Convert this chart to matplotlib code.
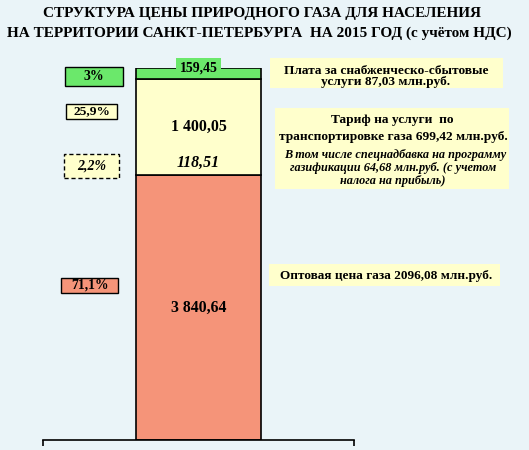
import matplotlib.pyplot as plt
from matplotlib.patches import Rectangle

# data
segments = ['Оптовая цена газа', 'Транспортировка', 'Снабженческо-сбытовые']
values = [3840.64, 1400.05, 159.45]
value_labels = ['3 840,64', '1 400,05', '159,45']
shares = ['71,1%', '25,9%', '3%']
surcharge = 118.51
surcharge_label = '118,51'
surcharge_share = '2,2%'
colors = ['#F59479', '#FFFFCC', '#6BE86B']

bg = '#EAF4F8'
W, H = 529, 450
plt.rcParams['font.family'] = ['Liberation Serif', 'DejaVu Serif']

fig = plt.figure(figsize=(W / 100, H / 100), dpi=100, facecolor=bg)


def fx(x):
    return x / W


def fy(y):
    return 1 - y / H


def pbox(x0, y0, x1, y1, color, ec='none', ls='-'):
    # rectangle in pixel coords (top-left origin)
    fig.patches.append(Rectangle((fx(x0), fy(y1)), fx(x1) - fx(x0), (y1 - y0) / H,
                                 transform=fig.transFigure, facecolor=color,
                                 edgecolor=ec, linewidth=1, linestyle=ls, zorder=1))


total = sum(values)
ax = fig.add_axes([fx(43), fy(440), fx(354) - fx(43), (440 - 68) / H])
ax.set_facecolor(bg)
ax.patch.set_alpha(0)
ax.set_xlim(0, 1)
ax.set_ylim(0, total)

bottom = 0
for v, c in zip(values, colors):
    ax.bar(0.5, v, width=0.402, bottom=bottom, color=c, edgecolor='black', linewidth=1.2, zorder=2)
    bottom += v

# values inside bar
ax.text(0.5, values[0] / 2, value_labels[0], ha='center', va='center', fontsize=11.4, fontweight='bold', zorder=3)
ax.text(0.5, values[0] + values[1] / 2, value_labels[1], ha='center', va='center', fontsize=11.4,
        fontweight='bold', zorder=3)
ax.text(0.5, values[0] + surcharge * 1.55, surcharge_label, ha='center', va='center', fontsize=11.4,
        fontweight='bold', style='italic', zorder=3)
ax.text(0.5, total, value_labels[2], ha='center', va='center', fontsize=10, fontweight='bold', zorder=4,
        bbox=dict(boxstyle='square,pad=0.25', fc=colors[2], ec='none'))

for s in ['top', 'left', 'right']:
    ax.spines[s].set_visible(False)
ax.spines['bottom'].set_linewidth(1.2)
ax.set_xticks([0, 1])
ax.set_xticklabels(['', ''])
ax.tick_params(axis='x', direction='out', length=4, width=1.2)
ax.set_yticks([])

# share boxes on the left
pbox(65, 67, 123, 86, colors[2], ec='black')
fig.text(fx(94), fy(76.5), shares[2], ha='center', va='center', fontsize=10, fontweight='bold')
pbox(66, 104, 117, 119, colors[1], ec='black')
fig.text(fx(91.5), fy(111.5), shares[1], ha='center', va='center', fontsize=9.6, fontweight='bold')
pbox(64, 154, 119, 178, colors[1], ec='black', ls=(0, (3, 2)))
fig.text(fx(91.5), fy(166), surcharge_share, ha='center', va='center', fontsize=10, fontweight='bold',
         style='italic')
pbox(61, 278, 118, 293, colors[0], ec='black')
fig.text(fx(89.5), fy(285.5), shares[0], ha='center', va='center', fontsize=9.8, fontweight='bold')

# notes on the right
note_bg = '#FFFFCC'
pbox(270, 58, 503, 88, note_bg)
fig.text(fx(386), fy(71), 'Плата за снабженческо-сбытовые', ha='center', va='center', fontsize=9.6,
         fontweight='bold')
fig.text(fx(386), fy(82), 'услуги 87,03 млн.руб.', ha='center', va='center', fontsize=9.6, fontweight='bold')

pbox(275, 108, 509, 189, note_bg)
fig.text(fx(392), fy(120), 'Тариф на услуги  по', ha='center', va='center', fontsize=9.6, fontweight='bold')
fig.text(fx(393), fy(137), 'транспортировке газа 699,42 млн.руб.', ha='center', va='center', fontsize=9.6,
         fontweight='bold')
fig.text(fx(395), fy(155), 'В том числе спецнадбавка на программу', ha='center', va='center', fontsize=8.8,
         fontweight='bold', style='italic')
fig.text(fx(393), fy(168), 'газификации 64,68 млн.руб. (с учетом', ha='center', va='center', fontsize=8.8,
         fontweight='bold', style='italic')
fig.text(fx(393), fy(181), 'налога на прибыль)', ha='center', va='center', fontsize=8.8,
         fontweight='bold', style='italic')

pbox(269, 264, 500, 286, note_bg)
fig.text(fx(386), fy(275.5), 'Оптовая цена газа 2096,08 млн.руб.', ha='center', va='center', fontsize=9.5,
         fontweight='bold')

# title
fig.text(fx(262), fy(14), 'СТРУКТУРА ЦЕНЫ ПРИРОДНОГО ГАЗА ДЛЯ НАСЕЛЕНИЯ', ha='center', va='center',
         fontsize=11, fontweight='bold')
fig.text(fx(259), fy(33), 'НА ТЕРРИТОРИИ САНКТ-ПЕТЕРБУРГА  НА 2015 ГОД (с учётом НДС)', ha='center',
         va='center', fontsize=11, fontweight='bold')

fig.savefig('out.png', dpi=100, facecolor=bg)
